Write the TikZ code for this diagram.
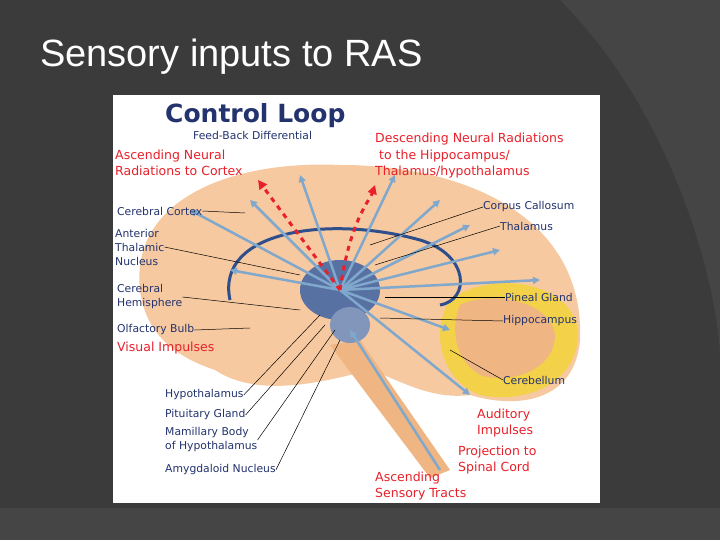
\documentclass[tikz,border=0pt]{standalone}
\usepackage{fontspec}
\setmainfont{Liberation Sans}
\newfontfamily\wide{DejaVu Sans}
\usetikzlibrary{arrows.meta}
\definecolor{bg}{HTML}{3B3B3B}
\definecolor{bg2}{HTML}{454545}
\definecolor{navy}{HTML}{23336E}
\definecolor{lred}{HTML}{E8202A}
\definecolor{peach}{HTML}{F6C9A0}
\definecolor{peach2}{HTML}{EFB582}
\definecolor{cbl}{HTML}{F3D24A}
\definecolor{arr}{HTML}{7FA8CC}
\definecolor{deep}{HTML}{2E4E8C}
\tikzset{
 x=1pt,y=-1pt,
 lab/.style={font=\wide\fontsize{10.8}{14}\selectfont, text=navy, anchor=west, align=left, inner sep=0},
 rlab/.style={font=\wide\fontsize{12.5}{16.5}\selectfont, text=lred, anchor=west, align=left, inner sep=0},
 lead/.style={black, line width=0.5pt},
 barr/.style={arr, line width=2.5pt, -{Triangle[length=7pt,width=7pt]}},
 rarr/.style={lred, line width=3pt, dash pattern=on 5pt off 5pt, -{Triangle[length=9pt,width=9pt]}}
}
\begin{document}
\begin{tikzpicture}
\useasboundingbox (0,0) rectangle (720,540);
\fill[bg] (0,0) rectangle (720,540);
\fill[bg2] (560,0) .. controls (680,120) and (720,300) .. (720,360) -- (720,0) -- cycle;
\fill[bg2] (0,508) rectangle (720,540);
\node[anchor=west, text=white, font=\fontsize{38}{40}\selectfont, inner sep=0] (title) at (40,57) {Sensory inputs to RAS};
\fill[white] (113,95) rectangle (600,503);
% brain
\fill[peach] (140,290) .. controls (130,200) and (230,160) .. (340,165) .. controls (470,165) and (585,220) .. (580,340) .. controls (575,400) and (520,410) .. (470,395) .. controls (430,400) and (400,380) .. (370,370) .. controls (330,380) and (260,400) .. (215,370) .. controls (170,355) and (145,330) .. (140,290) -- cycle;
\fill[cbl] (450,300) .. controls (490,270) and (570,280) .. (578,330) .. controls (580,380) and (530,405) .. (480,395) .. controls (440,380) and (430,330) .. (450,300) -- cycle;
\fill[peach2] (460,305) .. controls (490,290) and (550,300) .. (555,335) .. controls (555,370) and (510,385) .. (480,375) .. controls (455,360) and (450,330) .. (460,305) -- cycle;
\fill[peach2] (330,345) -- (360,340) -- (450,470) -- (430,478) -- cycle;
\draw[deep, line width=3pt] (230,300) .. controls (215,230) and (330,215) .. (420,240) .. controls (470,255) and (470,300) .. (440,305);
\fill[deep!80] (340,290) ellipse (40 and 30);
\fill[deep!60] (350,325) ellipse (20 and 18);
% blue arrows
\coordinate (c) at (340,290);
\foreach \p in {(190,210),(250,200),(300,175),(395,175),(440,200),(470,225),(500,250),(540,280),(230,270),(450,330),(470,395)}
  \draw[barr] (c) -- \p;
\draw[barr] (440,470) -- (350,330);
\draw[rarr] (c) -- (258,180);
\draw[rarr] (c) .. controls (350,220) and (370,200) .. (375,185);
% texts
\node[anchor=west, text=navy, font=\wide\bfseries\fontsize{25}{27}\selectfont, inner sep=0] (cl) at (165,116) {Control Loop};
\node[lab] (fb) at (193,135) {Feed-Back Differential};
\node[rlab] (an) at (115,163) {Ascending Neural\\Radiations to Cortex};
\node[rlab] (dn) at (375,156) {Descending Neural Radiations\\\ to the Hippocampus/\\Thalamus/hypothalamus};
\node[lab] (cc) at (117,211) {Cerebral Cortex};
\node[lab] (at) at (115,247) {Anterior\\Thalamic\\Nucleus};
\node[lab] (ch) at (117,297) {Cerebral\\Hemisphere};
\node[lab] (ob) at (117,330) {Olfactory Bulb};
\node[rlab] (vi) at (117,348) {Visual Impulses};
\node[lab] (hy) at (165,395) {Hypothalamus};
\node[lab] (pg) at (165,415) {Pituitary Gland};
\node[lab] (mb) at (165,440) {Mamillary Body\\of Hypothalamus};
\node[lab] (am) at (165,470) {Amygdaloid Nucleus};
\node[lab] (co) at (483,207) {Corpus Callosum};
\node[lab] (th) at (500,226) {Thalamus};
\node[lab] (pi) at (505,297) {Pineal Gland};
\node[lab] (hi) at (503,321) {Hippocampus};
\node[lab] (ce) at (503,380) {Cerebellum};
\node[rlab] (au) at (477,423) {Auditory\\Impulses};
\node[rlab] (ps) at (458,460) {Projection to\\Spinal Cord};
\node[rlab] (as) at (375,486) {Ascending\\Sensory Tracts};
% leaders
\draw[lead] (cc.east) -- (245,213);
\draw[lead] (at.east) -- (300,275);
\draw[lead] (ch.east) -- (300,310);
\draw[lead] (ob.east) -- (250,328);
\draw[lead] (hy.east) -- (320,315);
\draw[lead] (pg.east) -- (325,325);
\draw[lead] (mb.east) -- (335,330);
\draw[lead] (am.east) -- (340,340);
\draw[lead] (co.west) -- (370,245);
\draw[lead] (th.west) -- (375,265);
\draw[lead] (pi.west) -- (385,297);
\draw[lead] (hi.west) -- (380,318);
\draw[lead] (ce.west) -- (450,350);
\end{tikzpicture}
\end{document}
